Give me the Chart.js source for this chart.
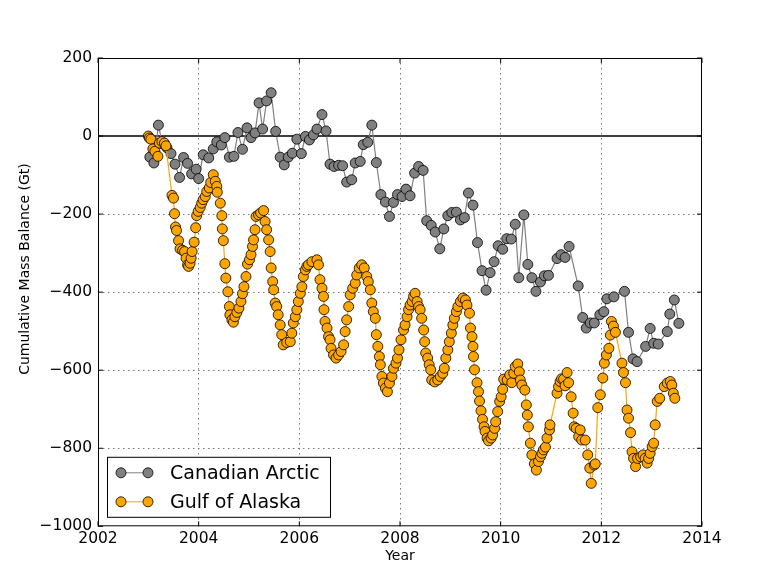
<!DOCTYPE html>
<html>
<head>
<meta charset="utf-8">
<script src="https://cdn.jsdelivr.net/npm/chart.js@4.4.0/dist/chart.umd.min.js"></script>
<style>
  html, body { margin: 0; padding: 0; background: #fff; }
  #wrap { width: 780px; height: 585px; position: relative; }
</style>
</head>
<body>
<div id="wrap"><canvas id="grafico"></canvas></div>
<script>
// dados (ano decimal, Gt)
var arcticYears = [
  2003.03, 2003.11, 2003.20, 2003.28, 2003.37, 2003.45, 2003.53, 2003.62, 2003.70, 2003.78,
  2003.86, 2003.95, 2004.00, 2004.09, 2004.20, 2004.29, 2004.36, 2004.45, 2004.52, 2004.61,
  2004.70, 2004.78, 2004.87, 2004.96, 2005.04, 2005.12, 2005.20, 2005.27, 2005.35, 2005.44,
  2005.53, 2005.62, 2005.70, 2005.78, 2005.86, 2005.95, 2006.04, 2006.12, 2006.20, 2006.28,
  2006.35, 2006.45, 2006.53, 2006.61, 2006.69, 2006.78, 2006.86, 2006.94, 2007.04, 2007.11,
  2007.21, 2007.27, 2007.36, 2007.44, 2007.53, 2007.62, 2007.71, 2007.79, 2007.87, 2007.95,
  2008.04, 2008.12, 2008.20, 2008.29, 2008.37, 2008.46, 2008.53, 2008.62, 2008.70, 2008.79,
  2008.87, 2008.95, 2009.03, 2009.12, 2009.20, 2009.28, 2009.36, 2009.45, 2009.54, 2009.63,
  2009.71, 2009.79, 2009.87, 2009.95, 2010.04, 2010.12, 2010.21, 2010.29, 2010.36, 2010.46,
  2010.54, 2010.62, 2010.70, 2010.79, 2010.87, 2010.95, 2011.12, 2011.20, 2011.28, 2011.36,
  2011.54, 2011.63, 2011.70, 2011.78, 2011.86, 2011.97, 2012.05, 2012.11, 2012.25, 2012.46,
  2012.54, 2012.63, 2012.71, 2012.88, 2012.97, 2013.04, 2013.13, 2013.31, 2013.36, 2013.45,
  2013.54
];
var arcticValues = [
  -54, -69, 28, -20, -30, -45, -72, -106, -55, -70,
  -97, -85, -109, -48, -56, -33, -15, -23, -4, -54,
  -52, 9, -34, 21, -4, 8, 85, 18, 90, 111,
  12, -54, -74, -54, -44, -8, -45, -1, -10, 3,
  18, 55, 13, -72, -78, -75, -76, -118, -112, -69,
  -65, -22, -16, 28, -68, -150, -169, -206, -170, -150,
  -155, -136, -153, -95, -78, -88, -217, -229, -246, -289,
  -238, -204, -196, -195, -215, -209, -146, -177, -273, -345,
  -395, -350, -322, -281, -290, -263, -264, -226, -363, -202,
  -329, -363, -398, -374, -358, -357, -314, -304, -311, -283,
  -384, -465, -492, -479, -479, -458, -450, -417, -412, -398,
  -503, -571, -578, -539, -493, -531, -533, -501, -456, -420,
  -480
];

var alaskaYears = [
  2003.00, 2003.02, 2003.05, 2003.09, 2003.13, 2003.19, 2003.22, 2003.27, 2003.32, 2003.35,
  2003.47, 2003.50, 2003.52, 2003.54, 2003.56, 2003.60, 2003.63, 2003.68, 2003.72, 2003.75,
  2003.78, 2003.80, 2003.83, 2003.85, 2003.87, 2003.91, 2003.94, 2003.96, 2003.99, 2004.03,
  2004.06, 2004.09, 2004.13, 2004.16, 2004.21, 2004.24, 2004.29, 2004.33, 2004.36, 2004.37,
  2004.43, 2004.46, 2004.47, 2004.49, 2004.52, 2004.54, 2004.58, 2004.61, 2004.62, 2004.66,
  2004.69, 2004.72, 2004.76, 2004.80, 2004.84, 2004.87, 2004.90, 2004.94, 2004.97, 2005.01,
  2005.04, 2005.07, 2005.09, 2005.12, 2005.14, 2005.19, 2005.23, 2005.29, 2005.32, 2005.35,
  2005.39, 2005.42, 2005.44, 2005.47, 2005.49, 2005.52, 2005.55, 2005.58, 2005.62, 2005.65,
  2005.68, 2005.75, 2005.82, 2005.85, 2005.88, 2005.92, 2005.95, 2005.98, 2006.02, 2006.05,
  2006.08, 2006.12, 2006.15, 2006.18, 2006.25, 2006.35, 2006.38, 2006.41, 2006.45, 2006.48,
  2006.49, 2006.51, 2006.55, 2006.58, 2006.61, 2006.63, 2006.68, 2006.73, 2006.78, 2006.83,
  2006.88, 2006.91, 2006.94, 2006.98, 2007.01, 2007.06, 2007.11, 2007.14, 2007.19, 2007.24,
  2007.29, 2007.34, 2007.37, 2007.41, 2007.44, 2007.47, 2007.51, 2007.53, 2007.56, 2007.59,
  2007.61, 2007.64, 2007.67, 2007.71, 2007.75, 2007.79, 2007.84, 2007.87, 2007.92, 2007.95,
  2007.98, 2008.02, 2008.07, 2008.10, 2008.14, 2008.17, 2008.20, 2008.24, 2008.27, 2008.30,
  2008.34, 2008.37, 2008.40, 2008.43, 2008.47, 2008.49, 2008.51, 2008.55, 2008.58, 2008.61,
  2008.63, 2008.69, 2008.75, 2008.80, 2008.85, 2008.88, 2008.91, 2008.95, 2008.98, 2009.02,
  2009.05, 2009.08, 2009.12, 2009.15, 2009.20, 2009.25, 2009.30, 2009.33, 2009.38, 2009.40,
  2009.43, 2009.45, 2009.46, 2009.48, 2009.53, 2009.56, 2009.58, 2009.61, 2009.64, 2009.67,
  2009.69, 2009.73, 2009.76, 2009.81, 2009.84, 2009.88, 2009.90, 2009.94, 2009.98, 2010.01,
  2010.04, 2010.06, 2010.13, 2010.18, 2010.22, 2010.26, 2010.29, 2010.34, 2010.37, 2010.39,
  2010.42, 2010.48, 2010.51, 2010.53, 2010.55, 2010.59, 2010.62, 2010.67, 2010.71, 2010.75,
  2010.79, 2010.82, 2010.85, 2010.89, 2010.92, 2010.97, 2010.98, 2011.12, 2011.15, 2011.18,
  2011.21, 2011.25, 2011.28, 2011.32, 2011.35, 2011.40, 2011.44, 2011.46, 2011.50, 2011.55,
  2011.58, 2011.61, 2011.68, 2011.73, 2011.77, 2011.80, 2011.86, 2011.88, 2011.93, 2011.98,
  2012.03, 2012.06, 2012.10, 2012.15, 2012.18, 2012.20, 2012.24, 2012.28, 2012.41, 2012.44,
  2012.48, 2012.51, 2012.54, 2012.58, 2012.61, 2012.64, 2012.68, 2012.72, 2012.78, 2012.83,
  2012.87, 2012.91, 2012.94, 2012.97, 2013.01, 2013.04, 2013.07, 2013.11, 2013.16, 2013.25,
  2013.31, 2013.37, 2013.40, 2013.43, 2013.46
];
var alaskaValues = [
  0, -5, -8, -33, -39, -52, -18, -14, -18, -25,
  -152, -159, -199, -233, -242, -268, -289, -293, -296, -313,
  -330, -334, -326, -313, -296, -272, -235, -204, -193, -183,
  -172, -163, -155, -142, -133, -119, -99, -116, -129, -144,
  -172, -204, -238, -268, -327, -364, -399, -437, -458, -471,
  -477, -463, -452, -441, -424, -404, -386, -360, -328, -317,
  -304, -283, -266, -240, -206, -202, -197, -191, -219, -240,
  -266, -296, -338, -373, -394, -428, -437, -458, -484, -509,
  -535, -529, -527, -505, -479, -463, -445, -424, -403, -386,
  -360, -343, -334, -330, -322, -317, -330, -368, -390, -411,
  -445, -475, -492, -514, -522, -544, -561, -569, -561, -552,
  -535, -501, -471, -437, -407, -390, -377, -356, -338, -330,
  -338, -360, -373, -394, -428, -450, -467, -509, -539, -565,
  -586, -616, -633, -646, -655, -633, -616, -595, -582, -569,
  -548, -522, -497, -484, -463, -445, -433, -424, -411, -403,
  -424, -437, -445, -467, -497, -527, -556, -569, -586, -599,
  -625, -630, -625, -616, -608, -595, -569, -548, -527, -505,
  -484, -467, -450, -437, -424, -415, -420, -433, -454, -492,
  -514, -539, -565, -599, -632, -655, -679, -704, -726, -745,
  -757, -774, -781, -774, -766, -749, -732, -706, -680, -668,
  -649, -623, -625, -612, -632, -608, -591, -584, -604, -625,
  -638, -651, -689, -715, -745, -787, -817, -840, -856, -834,
  -822, -813, -804, -797, -774, -753, -740, -659, -642, -629,
  -622, -623, -640, -606, -632, -668, -710, -745, -749, -770,
  -753, -779, -779, -817, -851, -890, -843, -840, -696, -663,
  -620, -582, -561, -544, -510, -475, -487, -503, -582, -606,
  -632, -702, -723, -760, -809, -826, -847, -826, -822, -817,
  -826, -838, -826, -813, -796, -787, -740, -680, -672, -642,
  -633, -629, -638, -659, -672
];

var xTicksMin = 2002, xTicksMax = 2014, xStep = 2;
var yTicksMin = -1000, yTicksMax = 200, yStep = 200;
var seriesNames = ['Canadian Arctic', 'Gulf of Alaska'];
var seriesColors = ['#808080', '#FFA500'];

function pares(xs, ys) {
    var out = [];
    for (var i = 0; i < xs.length; i++) out.push({ x: xs[i], y: ys[i] });
    return out;
}

var FONTE = 'DejaVu Sans';

// linha do zero, moldura, ticks internos, legenda e título do eixo y
var extras = {
    id: 'extras',
    beforeDatasetsDraw: function(chart) {
        var ctx = chart.ctx, ca = chart.chartArea;
        var y0 = chart.scales.y.getPixelForValue(0);
        ctx.save();
        ctx.strokeStyle = '#000';
        ctx.lineWidth = 1.5;
        ctx.beginPath();
        ctx.moveTo(ca.left, y0);
        ctx.lineTo(ca.right, y0);
        ctx.stroke();
        ctx.restore();
    },
    afterDraw: function(chart) {
        var ctx = chart.ctx, ca = chart.chartArea;
        var sx = chart.scales.x, sy = chart.scales.y;
        ctx.save();
        // moldura
        ctx.strokeStyle = '#000';
        ctx.lineWidth = 1;
        ctx.strokeRect(ca.left + 0.5, ca.top + 0.5, ca.right - ca.left - 1, ca.bottom - ca.top - 1);
        // ticks para dentro
        ctx.beginPath();
        sx.ticks.forEach(function(t) {
            var px = sx.getPixelForValue(t.value);
            ctx.moveTo(px, ca.bottom); ctx.lineTo(px, ca.bottom - 5);
            ctx.moveTo(px, ca.top); ctx.lineTo(px, ca.top + 5);
        });
        sy.ticks.forEach(function(t) {
            var py = sy.getPixelForValue(t.value);
            ctx.moveTo(ca.left, py); ctx.lineTo(ca.left + 5, py);
            ctx.moveTo(ca.right, py); ctx.lineTo(ca.right - 5, py);
        });
        ctx.stroke();

        // titulo do eixo y
        ctx.fillStyle = '#000';
        ctx.font = '14px "' + FONTE + '"';
        ctx.textAlign = 'center';
        ctx.textBaseline = 'middle';
        ctx.translate(25, 269);
        ctx.rotate(-Math.PI / 2);
        ctx.fillText('Cumulative Mass Balance (Gt)', 0, 0);
        ctx.restore();

        // legenda
        ctx.save();
        var bx = ca.left + 9, by = ca.bottom - 69.5, bw = 223, bh = 60;
        ctx.fillStyle = '#fff';
        ctx.fillRect(bx, by, bw, bh);
        ctx.strokeStyle = '#000';
        ctx.lineWidth = 1;
        ctx.strokeRect(bx + 0.5, by + 0.5, bw, bh);
        chart.data.datasets.forEach(function(ds, i) {
            var cy = by + 16 + i * 29;
            ctx.strokeStyle = ds.borderColor;
            ctx.lineWidth = 1;
            ctx.beginPath();
            ctx.moveTo(bx + 14, cy);
            ctx.lineTo(bx + 41, cy);
            ctx.stroke();
            [bx + 14, bx + 41].forEach(function(mx) {
                ctx.beginPath();
                ctx.arc(mx, cy, 5, 0, Math.PI * 2);
                ctx.fillStyle = ds.pointBackgroundColor;
                ctx.fill();
                ctx.lineWidth = 0.8;
                ctx.strokeStyle = '#000';
                ctx.stroke();
            });
            ctx.fillStyle = '#000';
            ctx.font = '19px "' + FONTE + '"';
            ctx.textAlign = 'left';
            ctx.textBaseline = 'middle';
            ctx.fillText(ds.label, bx + 63, cy + 1);
        });
        ctx.restore();
    }
};

function plotar() {
    var ctx = document.getElementById('grafico').getContext('2d');
    new Chart(ctx, {
        type: 'line',
        data: {
            datasets: [{
                label: seriesNames[0],
                data: pares(arcticYears, arcticValues),
                borderColor: seriesColors[0],
                backgroundColor: seriesColors[0],
                pointBackgroundColor: seriesColors[0],
                pointBorderColor: '#000',
                pointBorderWidth: 0.8,
                pointRadius: 5,
                borderWidth: 1.2,
                tension: 0,
                fill: false,
                order: 1
            }, {
                label: seriesNames[1],
                data: pares(alaskaYears, alaskaValues),
                borderColor: seriesColors[1],
                backgroundColor: seriesColors[1],
                pointBackgroundColor: seriesColors[1],
                pointBorderColor: '#000',
                pointBorderWidth: 0.8,
                pointRadius: 5,
                borderWidth: 1.2,
                tension: 0,
                fill: false,
                order: 0
            }]
        },
        options: {
            responsive: false,
            animation: false,
            layout: { padding: { left: 0, top: 58, right: 78, bottom: 0 } },
            plugins: {
                legend: { display: false },
                tooltip: { enabled: false }
            },
            scales: {
                x: {
                    type: 'linear',
                    min: xTicksMin,
                    max: xTicksMax,
                    ticks: {
                        stepSize: xStep,
                        maxRotation: 0,
                        padding: 3,
                        color: '#000',
                        font: { family: FONTE, size: 15.5 },
                        callback: function(v) { return String(v); }
                    },
                    grid: {
                        drawTicks: false,
                        lineWidth: 1,
                        color: function(c) {
                            var v = c.tick && c.tick.value;
                            return (v === xTicksMin || v === xTicksMax) ? 'rgba(0,0,0,0)' : '#777';
                        }
                    },
                    border: { display: false, dash: [1.5, 3.5] },
                    title: {
                        display: true,
                        text: 'Year',
                        color: '#000',
                        font: { family: FONTE, size: 14 },
                        padding: { top: 0, bottom: 20 }
                    },
                    afterFit: function(s) { s.height = 58.7; }
                },
                y: {
                    type: 'linear',
                    min: yTicksMin,
                    max: yTicksMax,
                    ticks: {
                        stepSize: yStep,
                        padding: 6,
                        color: '#000',
                        font: { family: FONTE, size: 15.5 },
                        callback: function(v) { return v < 0 ? '\u2212' + Math.abs(v) : String(v); }
                    },
                    grid: {
                        drawTicks: false,
                        lineWidth: 1,
                        color: function(c) {
                            var v = c.tick && c.tick.value;
                            return (v === yTicksMin || v === yTicksMax || v === 0) ? 'rgba(0,0,0,0)' : '#777';
                        }
                    },
                    border: { display: false, dash: [1.5, 3.5] },
                    afterFit: function(s) { s.width = 98; }
                }
            }
        },
        plugins: [extras]
    });
}

var cv = document.getElementById('grafico');
cv.width = 780;
cv.height = 585;
plotar();
</script>
</body>
</html>
